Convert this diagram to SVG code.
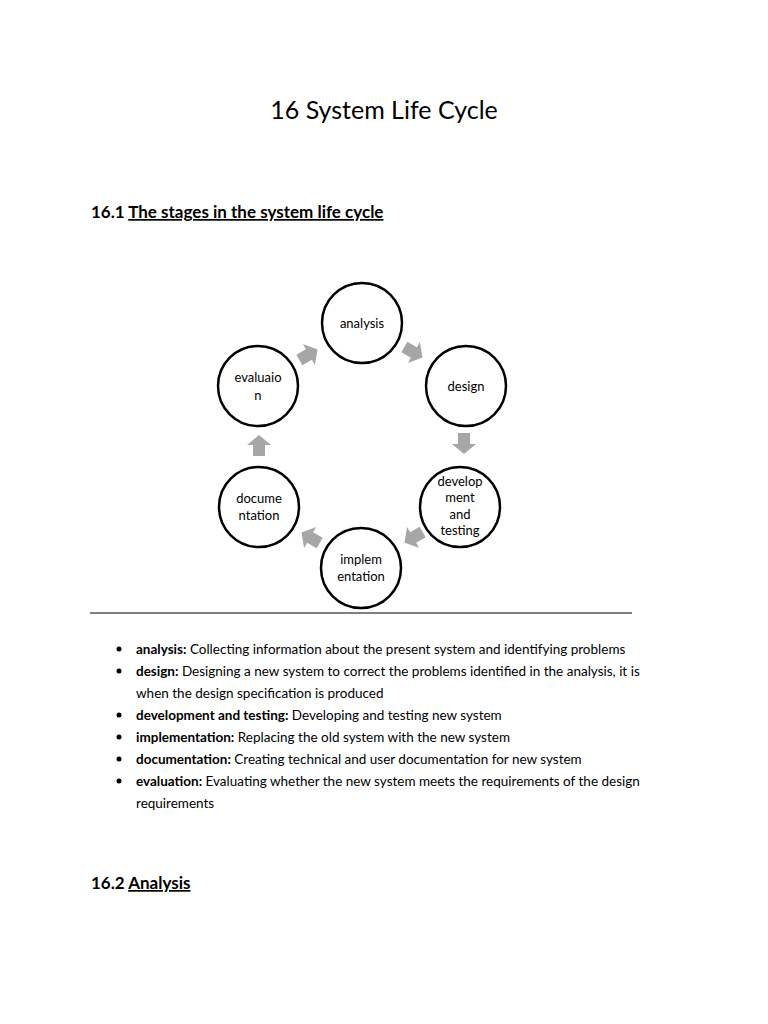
<svg xmlns="http://www.w3.org/2000/svg" width="768" height="1024" viewBox="0 0 768 1024">
<style>
text{font-family:Lato,"Liberation Sans",sans-serif;fill:#000}
.n{fill:#fff;stroke:#000;stroke-width:2.5}
.nt{font-size:13px;text-anchor:middle}
.a{fill:#a6a6a6}
.b{font-size:13.5px}
.bd{font-weight:bold}
</style>
<defs><polygon id="ar" points="-10,-6 1,-6 1,-12 11,0 1,12 1,6 -10,6"/></defs>
<rect width="768" height="1024" fill="#fff"/>
<text x="384" y="119" font-size="25" text-anchor="middle">16 System Life Cycle</text>
<text x="91" y="218" font-size="17" class="bd">16.1 <tspan text-decoration="underline">The stages in the system life cycle</tspan></text>
<g id="connectors">
<use href="#ar" class="a" transform="translate(308,355) rotate(-30)"/>
<use href="#ar" class="a" transform="translate(413,352) rotate(30)"/>
<use href="#ar" class="a" transform="translate(464,443) rotate(90)"/>
<use href="#ar" class="a" transform="translate(414,537) rotate(150)"/>
<use href="#ar" class="a" transform="translate(311,538) rotate(210)"/>
<use href="#ar" class="a" transform="translate(259,446) rotate(270)"/>
</g>
<g id="analysis"><circle class="n" cx="362" cy="323" r="40"/><text class="nt" x="362" y="328">analysis</text></g>
<g id="design"><circle class="n" cx="466" cy="386" r="40"/><text class="nt" x="466" y="391">design</text></g>
<g id="development"><circle class="n" cx="460" cy="507" r="40"/><text class="nt" x="460" y="486">develop</text><text class="nt" x="460" y="502">ment</text><text class="nt" x="460" y="519">and</text><text class="nt" x="460" y="535">testing</text></g>
<g id="implementation"><circle class="n" cx="361" cy="568" r="40"/><text class="nt" x="361" y="564">implem</text><text class="nt" x="361" y="581">entation</text></g>
<g id="documentation"><circle class="n" cx="259" cy="507" r="40"/><text class="nt" x="259" y="503">docume</text><text class="nt" x="259" y="520">ntation</text></g>
<g id="evaluation"><circle class="n" cx="258" cy="386" r="40"/><text class="nt" x="258" y="382">evaluaio</text><text class="nt" x="258" y="400">n</text></g>
<line x1="90" y1="613" x2="632" y2="613" stroke="#000" stroke-width="1"/>
<g class="b">
<circle cx="119" cy="649" r="2.5"/><text class="b" x="136" y="654"><tspan class="bd">analysis:</tspan> Collecting information about the present system and identifying problems</text>
<circle cx="119" cy="671" r="2.5"/><text class="b" x="136" y="676"><tspan class="bd">design:</tspan> Designing a new system to correct the problems identified in the analysis, it is</text>
<text class="b" x="136" y="698">when the design specification is produced</text>
<circle cx="119" cy="715" r="2.5"/><text class="b" x="136" y="720"><tspan class="bd">development and testing:</tspan> Developing and testing new system</text>
<circle cx="119" cy="737" r="2.5"/><text class="b" x="136" y="742"><tspan class="bd">implementation:</tspan> Replacing the old system with the new system</text>
<circle cx="119" cy="759" r="2.5"/><text class="b" x="136" y="764"><tspan class="bd">documentation:</tspan> Creating technical and user documentation for new system</text>
<circle cx="119" cy="781" r="2.5"/><text class="b" x="136" y="786"><tspan class="bd">evaluation:</tspan> Evaluating whether the new system meets the requirements of the design</text>
<text class="b" x="136" y="808">requirements</text>
</g>
<text x="91" y="889" font-size="17" class="bd">16.2 <tspan text-decoration="underline">Analysis</tspan></text>
</svg>
